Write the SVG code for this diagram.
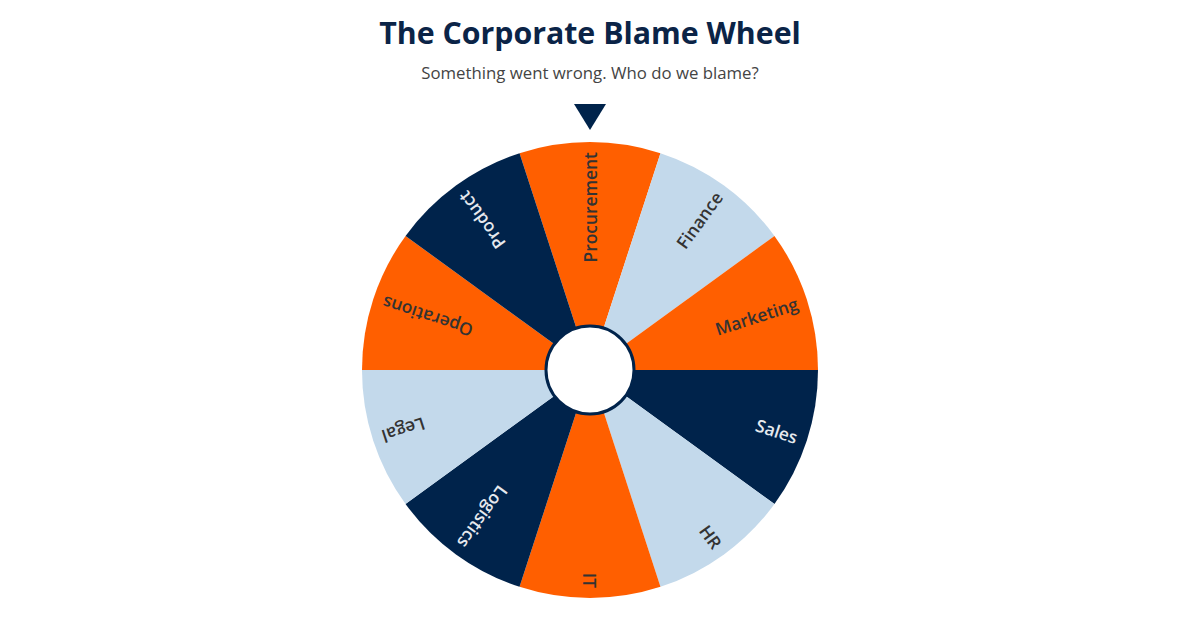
<svg xmlns="http://www.w3.org/2000/svg" width="1200" height="628" viewBox="0 0 1200 628">
<style>
.title{font-family:"Open Sans","Liberation Sans",sans-serif;font-weight:700;font-size:30.3px;fill:#0b2447;text-anchor:middle}
.sub{font-family:"Open Sans","Liberation Sans",sans-serif;font-size:16.8px;fill:#444;text-anchor:middle}
.lbl{font-family:"Open Sans","Liberation Sans",sans-serif;font-weight:600;font-size:17.4px;text-anchor:end;dominant-baseline:central}
.dk{fill:#333333}
.lt{fill:#e6e9ee}
.or{fill:#ff5f00}
.nv{fill:#00234b}
.lb{fill:#c3d9eb}
</style>
<rect width="1200" height="628" fill="#ffffff"/>
<text class="title" x="590" y="44">The Corporate Blame Wheel</text>
<text class="sub" x="590" y="79">Something went wrong. Who do we blame?</text>
<g id="wheel" transform="translate(590,370)">
<g id="procurement" transform="rotate(-90)"><path class="or" d="M0,0 L228,0 A228,228 0 0 1 184.46,134.02 Z" transform="rotate(-18)"/><text class="lbl dk" x="218" y="0">Procurement</text></g>
<g id="finance" transform="rotate(-54)"><path class="lb" d="M0,0 L228,0 A228,228 0 0 1 184.46,134.02 Z" transform="rotate(-18)"/><text class="lbl dk" x="218" y="0">Finance</text></g>
<g id="marketing" transform="rotate(-18)"><path class="or" d="M0,0 L228,0 A228,228 0 0 1 184.46,134.02 Z" transform="rotate(-18)"/><text class="lbl dk" x="218" y="0">Marketing</text></g>
<g id="sales" transform="rotate(18)"><path class="nv" d="M0,0 L228,0 A228,228 0 0 1 184.46,134.02 Z" transform="rotate(-18)"/><text class="lbl lt" x="218" y="0">Sales</text></g>
<g id="hr" transform="rotate(54)"><path class="lb" d="M0,0 L228,0 A228,228 0 0 1 184.46,134.02 Z" transform="rotate(-18)"/><text class="lbl dk" x="218" y="0">HR</text></g>
<g id="it" transform="rotate(90)"><path class="or" d="M0,0 L228,0 A228,228 0 0 1 184.46,134.02 Z" transform="rotate(-18)"/><text class="lbl dk" x="218" y="0">IT</text></g>
<g id="logistics" transform="rotate(126)"><path class="nv" d="M0,0 L228,0 A228,228 0 0 1 184.46,134.02 Z" transform="rotate(-18)"/><text class="lbl lt" x="218" y="0">Logistics</text></g>
<g id="legal" transform="rotate(162)"><path class="lb" d="M0,0 L228,0 A228,228 0 0 1 184.46,134.02 Z" transform="rotate(-18)"/><text class="lbl dk" x="218" y="0">Legal</text></g>
<g id="operations" transform="rotate(198)"><path class="or" d="M0,0 L228,0 A228,228 0 0 1 184.46,134.02 Z" transform="rotate(-18)"/><text class="lbl dk" x="218" y="0">Operations</text></g>
<g id="product" transform="rotate(234)"><path class="nv" d="M0,0 L228,0 A228,228 0 0 1 184.46,134.02 Z" transform="rotate(-18)"/><text class="lbl lt" x="218" y="0">Product</text></g>
<circle id="hub" cx="0" cy="0" r="44" fill="#ffffff" stroke="#00234b" stroke-width="3"/>
</g>
<g id="pointer"><polygon points="574,104 606,104 590,130" fill="#00234b"/></g>
<g id="connectors"/>
</svg>
